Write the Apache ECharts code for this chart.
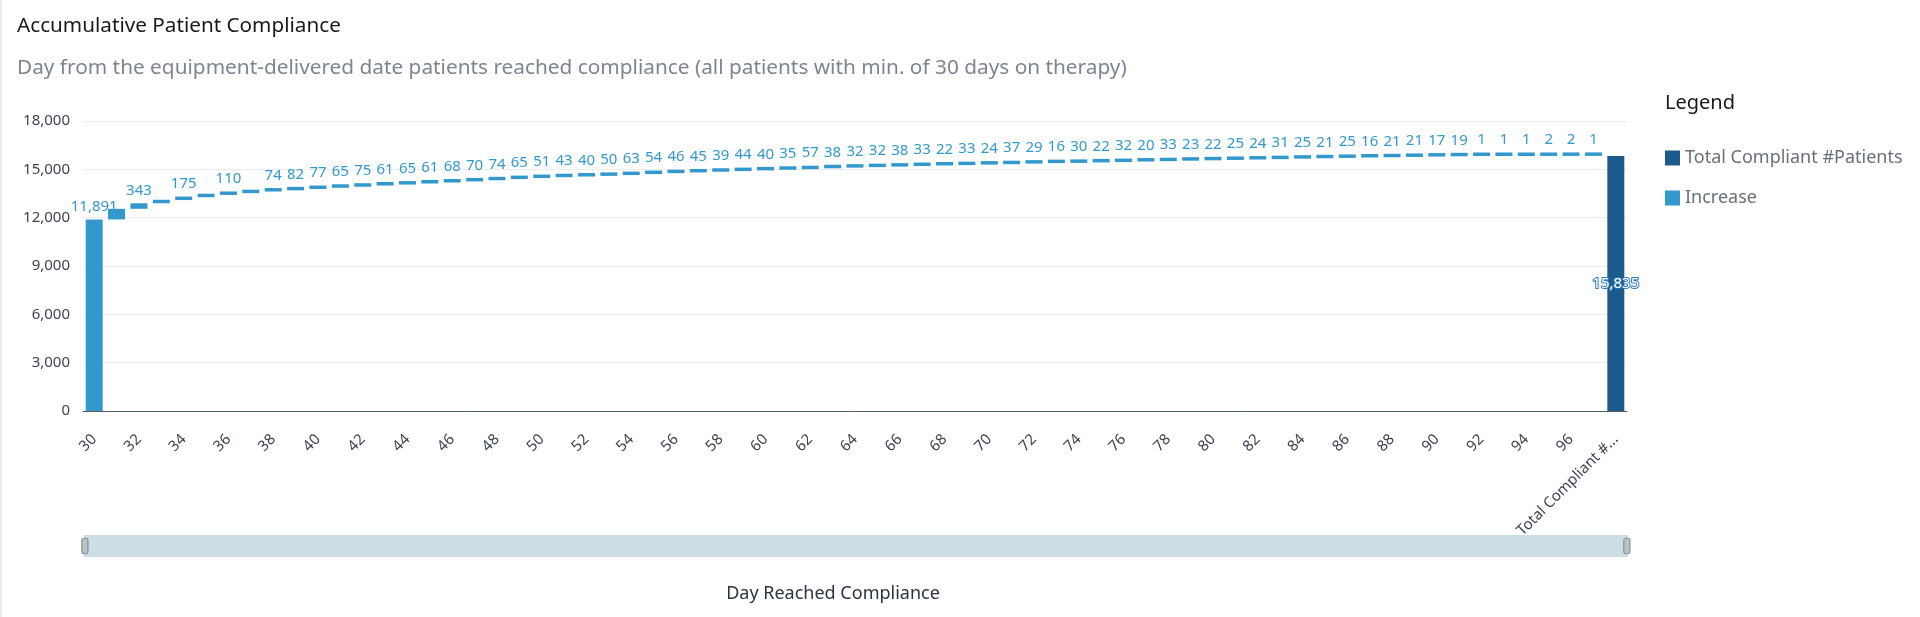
<!DOCTYPE html>
<html>
<head>
<meta charset="utf-8">
<script src="https://cdn.jsdelivr.net/npm/echarts@6/dist/echarts.min.js"></script>
<style>
html,body{margin:0;padding:0;background:#ffffff;}
#c{width:1920px;height:617px;}
</style>
</head>
<body>
<div id="c"></div>
<script>
// ---- data ----
const days = ['30','31','32','33','34','35','36','37','38','39','40','41','42','43','44','45','46','47','48','49',
  '50','51','52','53','54','55','56','57','58','59','60','61','62','63','64','65','66','67','68','69',
  '70','71','72','73','74','75','76','77','78','79','80','81','82','83','84','85','86','87','88','89',
  '90','91','92','93','94','95','96','97'];
const totalLabel = 'Total Compliant #Patients';
const increases = [11891, 660, 343, 200, 175, 140, 110, 103,
  74, 82, 77, 65, 75, 61, 65, 61, 68, 70, 74, 65, 51, 43, 40, 50, 63, 54, 46, 45, 39, 44,
  40, 35, 57, 38, 32, 32, 38, 33, 22, 33, 24, 37, 29, 16, 30, 22, 32, 20, 33, 23,
  22, 25, 24, 31, 25, 21, 25, 16, 21, 21, 17, 19, 1, 1, 1, 2, 2, 1];
const totalCompliant = 15835;
const hiddenLabelDays = ['31', '33', '35', '37'];
const yTicks = { min: 0, max: 18000, interval: 3000 };

// ---- build ----
const FONT = "'Noto Sans', sans-serif";
const fmt = n => Number(n).toLocaleString('en-US');
const categories = days.concat([totalLabel]);
const base = [];
let run = 0;
increases.forEach(v => { base.push(run); run += v; });
base.push('-');
const incData = increases.map((v, i) => hiddenLabelDays.includes(days[i]) ? { value: v, label: { show: false } } : v).concat(['-']);
const totalData = days.map(() => '-').concat([totalCompliant]);

const chart = echarts.init(document.getElementById('c'), null, { renderer: 'canvas' });
chart.setOption({
  animation: false,
  backgroundColor: '#ffffff',
  textStyle: { fontFamily: FONT },
  title: [
    { text: 'Accumulative Patient Compliance', left: 17, top: 16, padding: 0,
      textStyle: { fontFamily: FONT, fontSize: 20.7, fontWeight: 'normal', color: '#16191f' } },
    { text: 'Day from the equipment-delivered date patients reached compliance (all patients with min. of 30 days on therapy)',
      left: 17, top: 58, padding: 0,
      textStyle: { fontFamily: FONT, fontSize: 20.8, fontWeight: 'normal', color: '#7d8590' } },
    { text: 'Legend', left: 1665, top: 93, padding: 0,
      textStyle: { fontFamily: FONT, fontSize: 20, fontWeight: 'normal', color: '#16191f' } }
  ],
  legend: {
    orient: 'vertical', left: 1665, top: 149, padding: 0,
    itemWidth: 15, itemHeight: 15, itemGap: 22, icon: 'rect',
    data: [totalLabel, 'Increase'],
    textStyle: { fontFamily: FONT, fontSize: 18, color: '#687078' }
  },
  graphic: [
    { type: 'rect', left: 0, top: 0, shape: { width: 2, height: 617 }, style: { fill: '#e9ecee' }, silent: true }
  ],
  grid: { left: 83, right: 293, top: 121, bottom: 206, containLabel: false, outerBoundsMode: 'none' },
  xAxis: {
    type: 'category', data: categories,
    name: 'Day Reached Compliance', nameLocation: 'middle', nameGap: 174,
    nameTextStyle: { fontFamily: FONT, fontSize: 18, color: '#2a3440', padding: [0, 44, 0, 0] },
    axisLine: { lineStyle: { color: '#545b64', width: 1 } },
    axisTick: { interval: 1, length: 6, lineStyle: { color: '#545b64' } },
    axisLabel: { interval: 1, rotate: 45, margin: 26, fontSize: 15, color: '#3d4450', fontFamily: FONT,
      width: 145, overflow: 'truncate', ellipsis: '...' }
  },
  yAxis: {
    type: 'value', min: yTicks.min, max: yTicks.max, interval: yTicks.interval,
    axisLabel: { fontSize: 15, color: '#3d4450', margin: 13, fontFamily: FONT, formatter: v => fmt(v) },
    splitLine: { lineStyle: { color: '#e9ebed' } },
    axisLine: { show: false }, axisTick: { show: false }
  },
  dataZoom: [{
    type: 'slider', xAxisIndex: 0, start: 0, end: 100,
    left: 83, right: 293, bottom: 60, height: 22,
    showDetail: false, showDataShadow: false, brushSelect: false, moveHandleSize: 0,
    backgroundColor: 'rgba(0,0,0,0)', fillerColor: '#cddde6', borderColor: 'rgba(0,0,0,0)',
    handleIcon: 'path://M2,0 h4 a2,2 0 0 1 2,2 v16 a2,2 0 0 1 -2,2 h-4 a2,2 0 0 1 -2,-2 v-16 a2,2 0 0 1 2,-2 z',
    handleSize: '70%',
    handleStyle: { color: '#b8c2c9', borderColor: '#7c8790', borderWidth: 1 }
  }],
  series: [
    { name: 'base', type: 'bar', stack: 'w', data: base, silent: true,
      itemStyle: { color: 'rgba(0,0,0,0)' }, barCategoryGap: '24%', label: { show: false } },
    { name: 'Increase', type: 'bar', stack: 'w', data: incData, barCategoryGap: '24%', barMinHeight: 3.5,
      itemStyle: { color: '#3399cc' },
      label: { show: true, position: 'top', distance: 5, fontSize: 15, fontFamily: FONT, color: '#3399cc',
        formatter: p => fmt(p.value) } },
    { name: totalLabel, type: 'bar', stack: 'w', data: totalData, barCategoryGap: '24%',
      itemStyle: { color: '#1c5b8d' },
      label: { show: true, position: 'inside', fontSize: 15, fontFamily: FONT, color: '#ffffff',
        textBorderColor: '#2e7ab8', textBorderWidth: 2, formatter: p => fmt(p.value) } }
  ]
});
</script>
</body>
</html>
